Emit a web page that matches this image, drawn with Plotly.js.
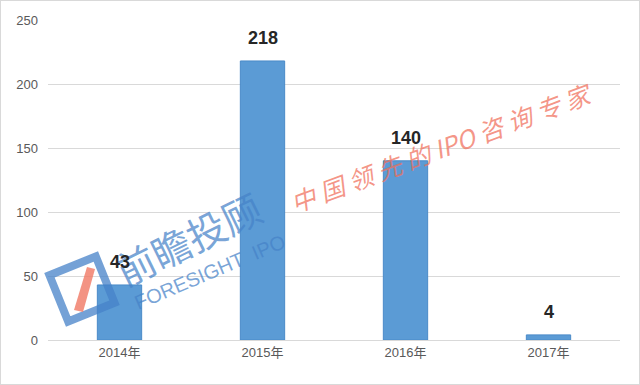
<!DOCTYPE html>
<html><head><meta charset="utf-8">
<script src="https://cdn.plot.ly/plotly-3.0.1.min.js"></script>
<style>
html,body{margin:0;padding:0;background:#fff;}
#wrap{position:relative;width:640px;height:385px;}
#chart{width:640px;height:385px;}
#border{position:absolute;left:0;top:0;width:640px;height:385px;box-sizing:border-box;border:1px solid #d9d9d9;pointer-events:none;}
</style></head>
<body><div id="wrap"><div id="chart"></div><div id="border"></div></div>
<script>
const categories = ["2014年", "2015年", "2016年", "2017年"];
const values = [43, 218, 140, 4];
const yTicks = [0, 50, 100, 150, 200, 250];

const W = 640, H = 385, M = {l: 48, r: 20, t: 20, b: 45};
const pw = W - M.l - M.r, ph = H - M.t - M.b;
function px(x){ return (x - M.l) / pw; }
function py(y){ return (H - M.b - y) / ph; }

function rotSquare(cx, cy, s, ang){
  const a = ang*Math.PI/180, pts = [];
  [[-1,-1],[1,-1],[1,1],[-1,1]].forEach(([u,v])=>{
    const x = cx + (u*s/2)*Math.cos(a) - (v*s/2)*Math.sin(a);
    const y = cy + (u*s/2)*Math.sin(a) + (v*s/2)*Math.cos(a);
    pts.push(px(x).toFixed(4)+','+py(y).toFixed(4));
  });
  return 'M'+pts.join('L')+'Z';
}

const trace = {
  type: 'bar', x: categories, y: values,
  marker: {color: '#5b9bd5', line: {color: '#4a8ac8', width: 1}},
  hoverinfo: 'none'
};

const labelAnns = categories.map((c, i) => ({
  xref: 'x', yref: 'y', x: c, y: values[i], text: String(values[i]), showarrow: false,
  xanchor: 'center', yanchor: 'bottom', yshift: 11,
  font: {family: 'Liberation Sans, Arial, sans-serif', size: 18, color: '#262626', weight: 'bold'}
}));

const wmAnns = [
  {xref: 'paper', yref: 'paper', x: px(188), y: py(238), xanchor: 'center', yanchor: 'middle',
   text: '前瞻投顾', showarrow: false, textangle: -26,
   font: {family: '"Noto Sans CJK SC", sans-serif', size: 39, color: 'rgba(70,130,200,0.72)'}},
  {xref: 'paper', yref: 'paper', x: px(210), y: py(272), xanchor: 'center', yanchor: 'middle',
   text: 'FORESIGHT  IPO', showarrow: false, textangle: -23,
   font: {family: 'Liberation Sans, sans-serif', size: 20, color: 'rgba(70,130,200,0.72)'}},
  {xref: 'paper', yref: 'paper', x: px(441), y: py(147), xanchor: 'center', yanchor: 'middle',
   text: '<i>中 国 领 先 的 IPO 咨 询 专 家</i>', showarrow: false, textangle: -20.5,
   font: {family: '"Noto Sans CJK SC", sans-serif', size: 25, color: 'rgba(240,110,90,0.72)'}}
];

const layout = {
  width: W, height: H, margin: M,
  paper_bgcolor: '#fff', plot_bgcolor: '#fff',
  bargap: 0.69, showlegend: false,
  font: {family: 'Liberation Sans, "Noto Sans CJK SC", sans-serif', color: '#595959', size: 13},
  xaxis: {type: 'category', showgrid: false, showline: true, linecolor: '#d9d9d9', linewidth: 1,
          ticks: '', tickfont: {size: 13, color: '#595959', family: 'Liberation Sans, "Noto Sans CJK SC", sans-serif'}, fixedrange: true},
  yaxis: {range: [0, 250], tickvals: yTicks, showgrid: true, gridcolor: '#d9d9d9', gridwidth: 1,
          zeroline: false, showline: false, ticks: '', ticklen: 0, tickfont: {size: 13, color: '#595959'},
          ticklabelstandoff: 9, fixedrange: true},
  shapes: [
    {type: 'path', xref: 'paper', yref: 'paper', path: rotSquare(82, 289, 50, -22),
     line: {color: 'rgba(70,130,200,0.75)', width: 8}, fillcolor: 'rgba(0,0,0,0)', layer: 'above'},
    {type: 'path', xref: 'paper', yref: 'paper',
     path: 'M'+px(87)+','+py(267)+'L'+px(95)+','+py(269)+'L'+px(83)+','+py(312)+'L'+px(74)+','+py(310)+'Z',
     line: {width: 0}, fillcolor: 'rgba(240,120,100,0.8)', layer: 'above'}
  ],
  annotations: wmAnns.concat(labelAnns)
};

Plotly.newPlot('chart', [trace], layout, {displayModeBar: false, staticPlot: true});
</script></body></html>
